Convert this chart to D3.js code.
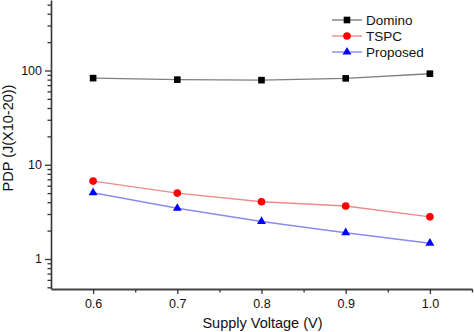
<!DOCTYPE html>
<html>
  <head>
    <meta charset="utf-8" />
    <title>PDP vs Supply Voltage</title>
    <script src="https://d3js.org/d3.v7.min.js"></script>
    <style>
      body { margin: 0; background: #fff; }
      svg { display: block; font-family: "Liberation Sans", Arial, sans-serif; }
    </style>
  </head>
  <body>
    <svg width="474" height="332" id="chart"></svg>

    <script>
        // supply voltages on the x axis
        var voltages = [0.6, 0.7, 0.8, 0.9, 1.0];

        // PDP values for each circuit, J (x10^-20)
        var domino = [83, 80, 79, 82.5, 92.5];
        var tspc = [6.7, 5.0, 4.05, 3.65, 2.8];
        var proposed = [5.05, 3.45, 2.5, 1.9, 1.47];

        var xTicks = [0.6, 0.7, 0.8, 0.9, 1.0];
        var xMinor = [0.65, 0.75, 0.85, 0.95, 1.05];
        var yTicks = [1, 10, 100];

        var series = [
            { name: "Domino", values: domino, line: "#7f7f7f", fill: "#000000", shape: d3.symbolSquare, size: 44 },
            { name: "TSPC", values: tspc, line: "#f08a8a", fill: "#ff0000", shape: d3.symbolCircle, size: 46 },
            { name: "Proposed", values: proposed, line: "#8a8af0", fill: "#0000ff", shape: d3.symbolTriangle, size: 34 }
        ];

        var svg = d3.select("#chart");
        // plot edges (window.top is reserved, so plotTop)
        var plotLeft = 51, plotRight = 472, plotTop = 0, plotBottom = 289;

        var x = d3.scaleLinear().domain([0.55, 1.05]).range([plotLeft, plotRight]);
        var y = d3.scaleLog().domain([0.48, 560]).range([plotBottom, plotTop]);

        // y axis: labelled decades plus minor ticks
        var yMinor = y.ticks().filter(function(d){ return yTicks.indexOf(d) < 0; });
        svg.append("g")
            .attr("transform", "translate(" + plotLeft + ",0)")
            .call(d3.axisLeft(y).tickValues(yMinor).tickSize(3.5).tickFormat(""))
            .call(function(g){ g.select(".domain").remove(); })
            .selectAll("line").attr("stroke", "#333").attr("stroke-width", 1.3);

        var yAxis = svg.append("g")
            .attr("transform", "translate(" + plotLeft + ",0)")
            .call(d3.axisLeft(y).tickValues(yTicks).tickSize(6).tickSizeOuter(0)
                .tickFormat(d3.format("d")));
        yAxis.select(".domain").attr("stroke", "#333").attr("stroke-width", 1.6);
        yAxis.selectAll("line").attr("stroke", "#333").attr("stroke-width", 1.3);
        yAxis.selectAll("text").attr("font-size", 12.5).attr("fill", "#111").attr("x", -9);

        // x axis
        svg.append("g")
            .attr("transform", "translate(0," + plotBottom + ")")
            .call(d3.axisBottom(x).tickValues(xMinor).tickSize(3.5).tickFormat(""))
            .call(function(g){ g.select(".domain").remove(); })
            .selectAll("line").attr("stroke", "#333").attr("stroke-width", 1.3);

        var xAxis = svg.append("g")
            .attr("transform", "translate(0," + plotBottom + ")")
            .call(d3.axisBottom(x).tickValues(xTicks).tickSize(5).tickSizeOuter(0)
                .tickFormat(d3.format(".1f")));
        xAxis.select(".domain").attr("stroke", "#444").attr("stroke-width", 2);
        xAxis.selectAll("line").attr("stroke", "#333").attr("stroke-width", 1.3);
        xAxis.selectAll("text").attr("font-size", 12.5).attr("fill", "#111").attr("y", 10);

        // axis titles
        svg.append("text")
            .attr("x", (plotLeft + plotRight) / 2 + 1)
            .attr("y", 328)
            .attr("text-anchor", "middle")
            .attr("font-size", 14.5)
            .attr("fill", "#111")
            .text("Supply Voltage (V)");

        svg.append("text")
            .attr("transform", "translate(13,138) rotate(-90)")
            .attr("text-anchor", "middle")
            .attr("font-size", 14.5)
            .attr("fill", "#111")
            .text("PDP (J(X10-20))");

        // lines and markers
        var line = d3.line()
            .x(function(d, i){ return x(voltages[i]); })
            .y(function(d){ return y(d); });

        series.forEach(function(s) {
            svg.append("path")
                .datum(s.values)
                .attr("d", line)
                .attr("fill", "none")
                .attr("stroke", s.line)
                .attr("stroke-width", 1.4);

            svg.selectAll(null)
                .data(s.values)
                .enter().append("path")
                .attr("d", d3.symbol().type(s.shape).size(s.size))
                .attr("transform", function(d, i){ return "translate(" + x(voltages[i]) + "," + y(d) + ")"; })
                .attr("fill", s.fill);
        });

        // legend
        var legend = svg.append("g").attr("transform", "translate(332,20)");
        series.forEach(function(s, i) {
            var row = legend.append("g").attr("transform", "translate(0," + (i * 16) + ")");
            row.append("line")
                .attr("x1", 0).attr("x2", 30)
                .attr("stroke", s.line).attr("stroke-width", 1.4);
            row.append("path")
                .attr("d", d3.symbol().type(s.shape).size(s.size))
                .attr("transform", "translate(15,0)")
                .attr("fill", s.fill);
            row.append("text")
                .attr("x", 34).attr("y", 0)
                .attr("dy", "0.35em")
                .attr("font-size", 13.5)
                .attr("fill", "#111")
                .text(s.name);
        });
    </script>
  </body>
</html>
